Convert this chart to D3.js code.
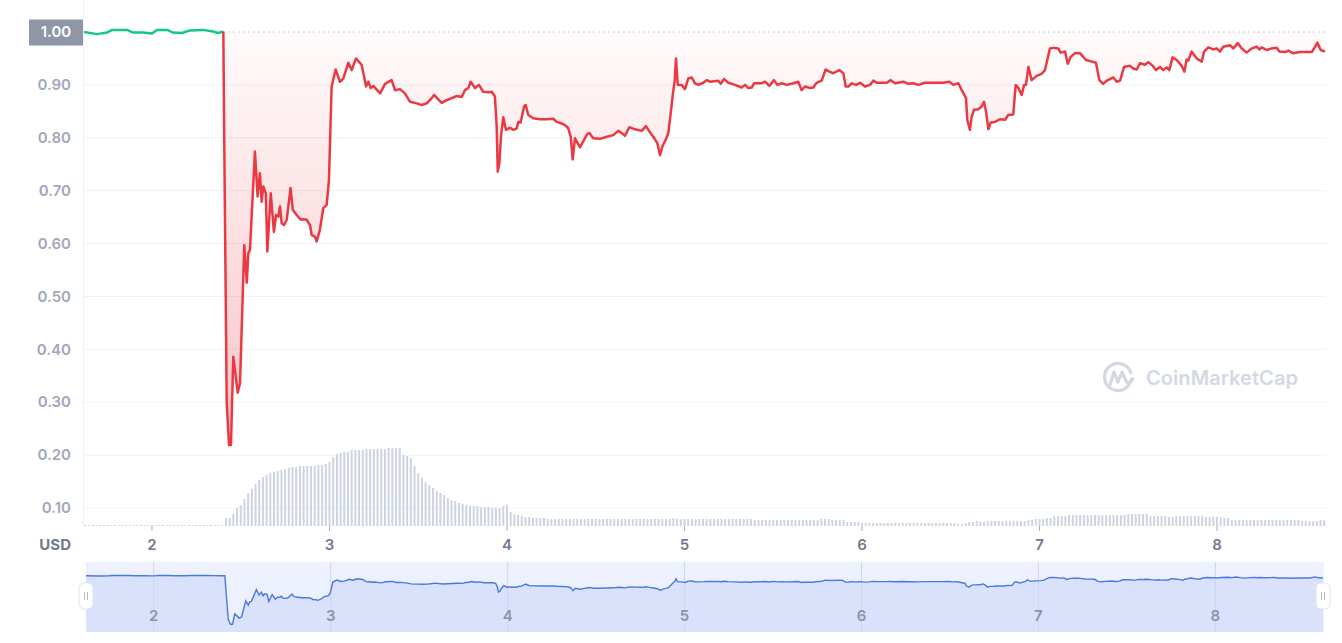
<!DOCTYPE html>
<html>
<head>
<meta charset="utf-8">
<script src="https://cdnjs.cloudflare.com/ajax/libs/d3/7.8.5/d3.min.js"></script>
<style>
  body { margin: 0; background: #fff; }
  svg { display: block; font-family: Inter, "Noto Sans", sans-serif; }
</style>
</head>
<body>
<svg id="chart" width="1342" height="643"></svg>
<script>

var dayTicks = [2, 3, 4, 5, 6, 7, 8];
var priceTicks = [0.1, 0.2, 0.3, 0.4, 0.5, 0.6, 0.7, 0.8, 0.9];
var openPrice = 1.00;
var dropDay = 2.402;   // line turns red after this

// [day, price USD]
var priceHistory = [
  [1.617,1.000],[1.690,0.996],[1.746,0.999],[1.775,1.004],[1.859,1.004],[1.893,0.999],[1.949,0.999],[2.000,0.997],
  [2.028,1.004],[2.085,1.004],[2.118,0.999],[2.169,0.998],[2.214,1.003],[2.287,1.004],[2.344,1.001],[2.372,0.998],
  [2.402,1.001],[2.406,0.834],[2.421,0.299],[2.434,0.219],[2.445,0.219],[2.458,0.386],[2.483,0.318],[2.496,0.336],
  [2.520,0.597],[2.534,0.526],[2.543,0.582],[2.552,0.588],[2.580,0.774],[2.595,0.689],[2.608,0.733],[2.618,0.679],
  [2.627,0.708],[2.641,0.695],[2.650,0.585],[2.669,0.695],[2.687,0.622],[2.699,0.654],[2.712,0.651],[2.721,0.670],
  [2.731,0.638],[2.744,0.635],[2.759,0.645],[2.781,0.705],[2.793,0.664],[2.815,0.654],[2.838,0.645],[2.852,0.646],
  [2.872,0.645],[2.890,0.635],[2.900,0.616],[2.918,0.613],[2.928,0.604],[2.946,0.626],[2.965,0.667],[2.984,0.673],
  [2.997,0.720],[3.012,0.897],[3.035,0.929],[3.059,0.906],[3.078,0.912],[3.106,0.942],[3.125,0.928],[3.149,0.950],
  [3.181,0.938],[3.206,0.897],[3.219,0.906],[3.232,0.894],[3.247,0.898],[3.285,0.884],[3.313,0.902],[3.350,0.909],
  [3.369,0.890],[3.397,0.892],[3.425,0.884],[3.454,0.868],[3.491,0.865],[3.519,0.862],[3.548,0.865],[3.576,0.875],
  [3.589,0.881],[3.632,0.866],[3.660,0.871],[3.688,0.875],[3.717,0.879],[3.745,0.877],[3.763,0.890],[3.782,0.894],
  [3.795,0.906],[3.820,0.894],[3.842,0.900],[3.866,0.887],[3.895,0.886],[3.914,0.887],[3.932,0.878],[3.942,0.821],
  [3.948,0.736],[3.957,0.752],[3.966,0.802],[3.979,0.839],[3.994,0.815],[4.017,0.819],[4.036,0.815],[4.055,0.818],
  [4.064,0.830],[4.077,0.829],[4.096,0.859],[4.105,0.862],[4.120,0.843],[4.148,0.837],[4.186,0.835],[4.224,0.835],
  [4.261,0.836],[4.280,0.830],[4.308,0.827],[4.327,0.824],[4.345,0.818],[4.359,0.802],[4.370,0.759],[4.383,0.799],
  [4.411,0.782],[4.434,0.796],[4.452,0.807],[4.464,0.809],[4.486,0.799],[4.524,0.798],[4.562,0.802],[4.599,0.805],
  [4.627,0.813],[4.646,0.809],[4.665,0.804],[4.689,0.820],[4.721,0.816],[4.759,0.813],[4.783,0.822],[4.802,0.812],
  [4.824,0.802],[4.847,0.790],[4.862,0.767],[4.877,0.785],[4.894,0.796],[4.909,0.809],[4.918,0.834],[4.934,0.881],
  [4.945,0.909],[4.952,0.950],[4.962,0.900],[4.984,0.900],[5.003,0.892],[5.021,0.912],[5.041,0.914],[5.059,0.903],
  [5.078,0.900],[5.106,0.904],[5.125,0.909],[5.144,0.906],[5.190,0.908],[5.204,0.902],[5.223,0.911],[5.247,0.904],
  [5.285,0.900],[5.322,0.895],[5.341,0.900],[5.359,0.894],[5.379,0.895],[5.392,0.903],[5.435,0.903],[5.454,0.906],
  [5.478,0.898],[5.504,0.909],[5.523,0.900],[5.548,0.903],[5.576,0.900],[5.613,0.903],[5.641,0.906],[5.660,0.890],
  [5.679,0.897],[5.707,0.894],[5.726,0.895],[5.741,0.903],[5.759,0.906],[5.773,0.908],[5.795,0.929],[5.816,0.925],
  [5.838,0.922],[5.872,0.928],[5.895,0.922],[5.908,0.897],[5.923,0.897],[5.942,0.903],[5.966,0.900],[5.989,0.904],
  [6.017,0.897],[6.045,0.900],[6.064,0.908],[6.083,0.904],[6.139,0.904],[6.162,0.909],[6.186,0.903],[6.233,0.906],
  [6.261,0.902],[6.289,0.903],[6.317,0.900],[6.355,0.904],[6.402,0.904],[6.458,0.904],[6.492,0.906],[6.514,0.900],
  [6.543,0.903],[6.562,0.890],[6.586,0.875],[6.593,0.834],[6.608,0.815],[6.618,0.840],[6.631,0.853],[6.655,0.854],
  [6.674,0.859],[6.687,0.868],[6.699,0.849],[6.712,0.816],[6.725,0.829],[6.749,0.830],[6.777,0.835],[6.806,0.834],
  [6.824,0.843],[6.852,0.844],[6.866,0.900],[6.881,0.894],[6.900,0.881],[6.913,0.900],[6.924,0.900],[6.937,0.934],
  [6.956,0.909],[6.984,0.917],[7.012,0.921],[7.031,0.928],[7.059,0.969],[7.078,0.970],[7.106,0.969],[7.119,0.961],
  [7.144,0.963],[7.159,0.940],[7.176,0.953],[7.200,0.960],[7.228,0.960],[7.262,0.947],[7.285,0.945],[7.318,0.942],
  [7.337,0.909],[7.359,0.902],[7.379,0.908],[7.397,0.911],[7.416,0.914],[7.435,0.906],[7.454,0.908],[7.476,0.934],
  [7.510,0.936],[7.528,0.931],[7.548,0.929],[7.566,0.941],[7.594,0.938],[7.613,0.943],[7.638,0.936],[7.656,0.928],
  [7.679,0.934],[7.697,0.928],[7.717,0.933],[7.731,0.928],[7.750,0.952],[7.773,0.947],[7.801,0.936],[7.816,0.925],
  [7.829,0.948],[7.838,0.946],[7.857,0.963],[7.886,0.950],[7.914,0.944],[7.927,0.963],[7.951,0.971],[7.979,0.967],
  [7.998,0.969],[8.017,0.963],[8.035,0.972],[8.073,0.975],[8.092,0.969],[8.117,0.979],[8.139,0.969],[8.167,0.961],
  [8.196,0.969],[8.224,0.972],[8.238,0.967],[8.252,0.971],[8.280,0.966],[8.308,0.969],[8.336,0.970],[8.351,0.963],
  [8.383,0.962],[8.402,0.965],[8.426,0.960],[8.468,0.962],[8.534,0.962],[8.552,0.972],[8.565,0.980],[8.584,0.966],
  [8.608,0.963]
];

// volume, one bar every half hour
var volStart = 1.625;
var volStep = 1 / 48;
var volume24h = [
  1,1,1,1,1,1,1,1,1,1,1,1,1,1,1,1,1,1,1,1,1,1,1,1,1,1,1,1,1,1,1,1,1,1,1,1,1,1,
  8,8,12,18,21,27,33,37,42,46,49,51,53,54,55,56,57,58,59,59,60,60,60,60,60,61,61,62,
  64,69,72,73,74,74,76,76,76,76,77,77,77,77,77,77,78,78,78,78,71,70,68,60,53,48,44,41,
  38,35,33,31,28,26,25,23,22,21,20,20,20,19,19,19,18,18,18,20,21,14,12,11,10,9,9,8,8,8,8,
  7,7,7,7,7,7,7,7,7,7,7,7,7,7,7,7,7,7,7,7,7,7,7,7,7,7,7,7,7,7,7,7,7,7,
  8,
  7,7,7,7,7,7,7,7,7,7,7,7,7,7,7,7,7,7,7,7,7,
  6,6,6,6,6,6,6,6,6,6,6,6,6,6,6,6,6,6,
  7,7,7,6,6,6,6,4,4,4,4,
  3,3,3,3,3,3,3,3,3,3,3,3,3,3,3,3,3,3,3,3,3,3,3,3,3,3,
  2,2,3,4,4,5,4,4,
  5,5,5,5,5,5,5,5,5,5,5,6,6,7,7,7,8,8,10,10,10,10,
  11,11,11,11,11,11,11,11,11,11,11,11,11,11,11,11,
  12,12,12,12,12,12,10,10,10,10,10,9,9,10,10,10,10,10,10,10,10,9,9,9,9,9,8,8,
  6,6,6,6,6,6,6,6,6,6,6,6,6,6,6,6,6,6,6,
  5,5,5,5,5,6,6
];


var svg = d3.select("#chart");

var x = d3.scaleLinear().domain([1.617, 8.614]).range([84, 1326]);
var y = d3.scaleLinear().domain([0.1, 1.0]).range([508, 32]);
var yVol = d3.scaleLinear().domain([0, 100]).range([526, 426]);
var xNav = d3.scaleLinear().domain([1.617, 8.614]).range([86, 1324]);
var yNav = d3.scaleLinear().domain([0.095, 1.22]).range([632, 562]);

var splitAt = priceHistory.findIndex(function(d) { return d[0] > dropDay; });
var greenPart = priceHistory.slice(0, splitAt);
var redPart = priceHistory.slice(splitAt - 1);

var defs = svg.append("defs");
var grad = defs.append("linearGradient")
    .attr("id", "redFill")
    .attr("gradientUnits", "userSpaceOnUse")
    .attr("x1", 0).attr("x2", 0)
    .attr("y1", y(openPrice))
    .attr("y2", y(d3.min(redPart, function(d) { return d[1]; })));
grad.append("stop").attr("offset", 0).attr("stop-color", "#ea3943").attr("stop-opacity", 0.02);
grad.append("stop").attr("offset", 1).attr("stop-color", "#ea3943").attr("stop-opacity", 0.3);

// grid
svg.append("g").selectAll("line")
    .data(priceTicks)
  .enter().append("line")
    .attr("x1", 84).attr("x2", 1326)
    .attr("y1", function(d) { return y(d); })
    .attr("y2", function(d) { return y(d); })
    .attr("stroke", "#eff2f5")
    .attr("stroke-width", 1);

svg.append("line")
    .attr("x1", 83.5).attr("x2", 83.5)
    .attr("y1", 0).attr("y2", 526)
    .attr("stroke", "#eff2f5");

// y labels
svg.append("g").selectAll("text")
    .data(priceTicks)
  .enter().append("text")
    .attr("x", 71)
    .attr("y", function(d) { return y(d); })
    .attr("dy", "0.35em")
    .attr("text-anchor", "end")
    .attr("font-size", 15)
    .attr("font-weight", 600)
    .attr("fill", "#a1a7bb")
    .text(function(d) { return d.toFixed(2); });

// volume bars
svg.append("g").selectAll("rect")
    .data(volume24h)
  .enter().append("rect")
    .attr("x", function(d, i) { return x(volStart + i * volStep) - 1; })
    .attr("width", 2)
    .attr("y", function(d) { return yVol(d); })
    .attr("height", function(d) { return yVol(0) - yVol(d); })
    .attr("fill", "#cdd4e2");

var area = d3.area()
    .x(function(d) { return x(d[0]); })
    .y0(y(openPrice))
    .y1(function(d) { return y(d[1]); });

svg.append("path")
    .datum(redPart)
    .attr("d", area)
    .attr("fill", "url(#redFill)");

// baseline at open price
svg.append("line")
    .attr("x1", x(dropDay)).attr("x2", 1326)
    .attr("y1", y(openPrice)).attr("y2", y(openPrice))
    .attr("stroke", "#a3a9b6")
    .attr("stroke-width", 1)
    .attr("stroke-dasharray", "1.2,3.8");

var line = d3.line()
    .x(function(d) { return x(d[0]); })
    .y(function(d) { return y(d[1]); });

svg.append("path")
    .datum(greenPart)
    .attr("d", line)
    .attr("fill", "none")
    .attr("stroke", "#16c784")
    .attr("stroke-width", 2.5)
    .attr("stroke-linejoin", "round");

svg.append("path")
    .datum(redPart)
    .attr("d", line)
    .attr("fill", "none")
    .attr("stroke", "#ea3943")
    .attr("stroke-width", 2.5)
    .attr("stroke-linejoin", "round");

// open price badge
svg.append("rect")
    .attr("x", 29).attr("y", y(openPrice) - 12.5)
    .attr("width", 54).attr("height", 26)
    .attr("fill", "#8f96a6");
svg.append("text")
    .attr("x", 56).attr("y", y(openPrice))
    .attr("dy", "0.36em")
    .attr("text-anchor", "middle")
    .attr("font-size", 15)
    .attr("font-weight", 600)
    .attr("fill", "#fff")
    .text(openPrice.toFixed(2));

// x axis
svg.append("g").selectAll("line")
    .data(dayTicks)
  .enter().append("line")
    .attr("x1", function(d) { return x(d); })
    .attr("x2", function(d) { return x(d); })
    .attr("y1", 526).attr("y2", 531)
    .attr("stroke", "#a7aebb");

svg.append("g").selectAll("text")
    .data(dayTicks)
  .enter().append("text")
    .attr("x", function(d) { return x(d); })
    .attr("y", 545)
    .attr("dy", "0.35em")
    .attr("text-anchor", "middle")
    .attr("font-size", 15)
    .attr("font-weight", 600)
    .attr("fill", "#6f7a8e")
    .text(function(d) { return d; });

svg.append("text")
    .attr("x", 71).attr("y", 545)
    .attr("dy", "0.35em")
    .attr("text-anchor", "end")
    .attr("font-size", 15)
    .attr("font-weight", 700)
    .attr("fill", "#6f7a8e")
    .text("USD");

// watermark
var wm = svg.append("g")
    .attr("transform", "translate(1118,377)")
    .attr("fill", "none")
    .attr("stroke", "#d3d9e4")
    .attr("stroke-width", 3.2)
    .attr("stroke-linecap", "round")
    .attr("stroke-linejoin", "round");
wm.append("path")
    .attr("d", d3.arc()({ innerRadius: 13.5, outerRadius: 13.5, startAngle: 0.55 * Math.PI, endAngle: 2.4 * Math.PI }));
wm.append("path")
    .attr("d", "M-8,8 L-4,-5 L0,5 L4,-5 L8,4 Q11,8 15,2");
svg.append("text")
    .attr("x", 1146).attr("y", 378)
    .attr("dy", "0.35em")
    .attr("font-size", 20)
    .attr("font-weight", 600)
    .attr("fill", "#d3d9e4")
    .attr("textLength", 152)
    .attr("lengthAdjust", "spacingAndGlyphs")
    .text("CoinMarketCap");

// navigator
svg.append("rect")
    .attr("x", 86).attr("y", 562)
    .attr("width", 1238).attr("height", 70)
    .attr("fill", "#edf1fd");

svg.append("path")
    .datum(priceHistory)
    .attr("d", d3.area()
      .x(function(d) { return xNav(d[0]); })
      .y0(632)
      .y1(function(d) { return yNav(d[1]); }))
    .attr("fill", "#d9e2fa");

svg.append("g").selectAll("line")
    .data(dayTicks)
  .enter().append("line")
    .attr("x1", function(d) { return xNav(d); })
    .attr("x2", function(d) { return xNav(d); })
    .attr("y1", 562).attr("y2", 632)
    .attr("stroke", "#cdd6ef")
    .attr("stroke-width", 1);

svg.append("path")
    .datum(priceHistory)
    .attr("d", d3.line()
      .x(function(d) { return xNav(d[0]); })
      .y(function(d) { return yNav(d[1]); }))
    .attr("fill", "none")
    .attr("stroke", "#4a78e0")
    .attr("stroke-width", 1.4);

svg.append("g").selectAll("text")
    .data(dayTicks)
  .enter().append("text")
    .attr("x", function(d) { return xNav(d); })
    .attr("y", 616)
    .attr("dy", "0.35em")
    .attr("text-anchor", "middle")
    .attr("font-size", 15)
    .attr("font-weight", 600)
    .attr("fill", "#8a93a7")
    .text(function(d) { return d; });

// handles
var handles = svg.append("g").selectAll("g")
    .data([86, 1323])
  .enter().append("g")
    .attr("transform", function(d) { return "translate(" + d + ",596)"; });
handles.append("rect")
    .attr("x", -7).attr("y", -13)
    .attr("width", 14).attr("height", 26)
    .attr("rx", 5)
    .attr("fill", "#fff")
    .attr("stroke", "#e1e4ea");
handles.append("path")
    .attr("d", "M-1.5,-4V4M1.5,-4V4")
    .attr("stroke", "#b3b9c5")
    .attr("stroke-width", 1);

</script>
</body>
</html>
